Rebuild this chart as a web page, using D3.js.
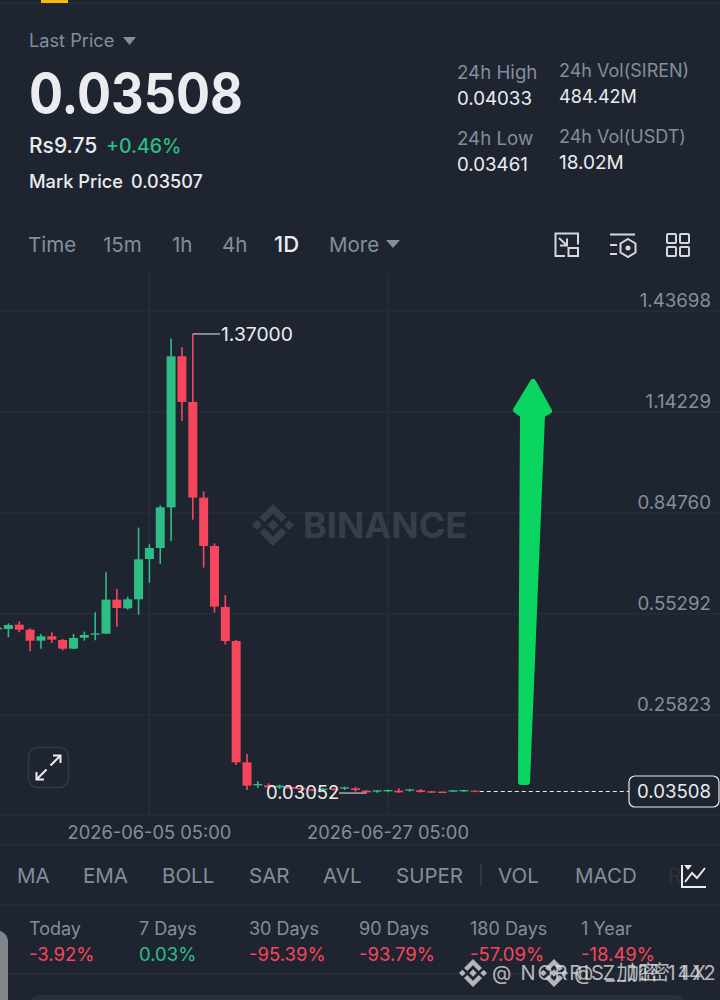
<!DOCTYPE html>
<html>
<head>
<meta charset="utf-8">
<script src="https://cdn.jsdelivr.net/npm/d3@7"></script>
<style>
  html, body { margin: 0; padding: 0; background: #1f2530; }
  svg { display: block; }
  text { font-family: "Inter", "Noto Sans CJK SC", sans-serif; }
</style>
</head>
<body>
<div id="chart"></div>
<script>
// daily candles
const dates = ["2026-05-22","2026-05-23","2026-05-24","2026-05-25","2026-05-26","2026-05-27","2026-05-28","2026-05-29","2026-05-30","2026-05-31",
  "2026-06-01","2026-06-02","2026-06-03","2026-06-04","2026-06-05","2026-06-06","2026-06-07","2026-06-08","2026-06-09","2026-06-10",
  "2026-06-11","2026-06-12","2026-06-13","2026-06-14","2026-06-15","2026-06-16","2026-06-17","2026-06-18","2026-06-19","2026-06-20",
  "2026-06-21","2026-06-22","2026-06-23","2026-06-24","2026-06-25","2026-06-26","2026-06-27","2026-06-28","2026-06-29","2026-06-30",
  "2026-07-01","2026-07-02","2026-07-03","2026-07-04","2026-07-05"];
const opens = [.5082,.5092,.5218,.5072,.4751,.4878,.4771,.4518,.4839,.4926,
  .4955,.5948,.5695,.5958,.7134,.7455,.8642,1.3048,1.1716,.8924,
  .7514,.5734,.4742,.1201,.0530,.0530,.0472,.0481,.0452,.0413,
  .0394,.0433,.0433,.0442,.0374,.0345,.0355,.0374,.0374,.0384,
  .0355,.0345,.0345,.0355,.0374];
const highs = [.5160,.5257,.5315,.5111,.4946,.4995,.4800,.4946,.5014,.5578,
  .6745,.6269,.6036,.8049,.7562,.8700,1.3564,1.3311,1.37,.9109,
  .7592,.6084,.4771,.1444,.0647,.0588,.0549,.0530,.0472,.0433,
  .0452,.0452,.0491,.0481,.0394,.0394,.0403,.0442,.0423,.0423,
  .0365,.0355,.0394,.0403,.0384];
const lows = [.5043,.4849,.4995,.4440,.4518,.4683,.4469,.4508,.4751,.4761,
  .4955,.5160,.5656,.5510,.6444,.6988,.7660,1.1161,.8282,.6882,
  .5568,.4635,.1123,.0394,.0452,.0433,.0423,.0404,.0384,.0355,
  .0374,.0374,.0394,.0345,.03052,.0316,.0326,.0308,.0345,.0316,
  .0311,.0305,.0335,.0335,.0326];
const closes = [.5131,.5208,.5072,.4751,.4878,.4781,.4518,.4829,.4917,.4965,
  .5948,.5705,.5958,.7125,.7455,.8642,1.3048,1.1716,.8924,.7514,
  .5744,.4742,.1201,.0520,.0569,.0472,.0520,.0433,.0413,.0374,
  .0433,.0394,.0472,.0394,.0326,.0384,.0394,.0326,.0413,.0335,
  .0316,.0306,.0384,.0394,.03508];

const priceTicks = [1.43698, 1.14229, 0.84760, 0.55292, 0.25823];
const dateTicks = ["2026-06-05", "2026-06-27"];
const lastPrice = 0.03508, highPrice = 1.37, lowPrice = 0.03052;

const timeframes = ["Time", "15m", "1h", "4h", "1D", "More"];
const indicators = ["MA", "EMA", "BOLL", "SAR", "AVL", "SUPER", "VOL", "MACD"];
const periods = ["Today", "7 Days", "30 Days", "90 Days", "180 Days", "1 Year"];
const periodChanges = ["-3.92%", "0.03%", "-95.39%", "-93.79%", "-57.09%", "-18.49%"];

const bg = "#1f2530", grid = "#2b313b", green = "#2ebd85", red = "#f6465d",
  gray = "#848e9c", white = "#eaecef";

const svg = d3.select("#chart").append("svg").attr("width", 720).attr("height", 1000);
const parse = d3.utcParse("%Y-%m-%d");

const label = (x, y, t, size, fill, opts = {}) => svg.append("text")
  .attr("x", x).attr("y", y).attr("font-size", size).attr("fill", fill)
  .attr("text-anchor", opts.anchor || "start")
  .attr("font-weight", opts.weight || 400)
  .text(t);
const hline = (y, c) => svg.append("line").attr("x1", 0).attr("x2", 720)
  .attr("y1", y).attr("y2", y).attr("stroke", c || grid).attr("stroke-width", 1.2);

// binance logo: two chevrons and three diamonds
const logo = (g, cx, cy, r) => {
  const k = r / 21;
  const dia = (dx, dy, s) => g.append("path")
    .attr("d", `M${cx + dx * k} ${cy + (dy - s) * k}l${s * k} ${s * k}l${-s * k} ${s * k}l${-s * k} ${-s * k}z`);
  [-1, 1].forEach(s => g.append("path").attr("d",
    d3.line()([[0, -21 * s], [13.500, -7.500 * s], [8.500, -3 * s], [0, -11.500 * s], [-8.500, -3 * s], [-13.500, -7.500 * s]]
      .map(p => [cx + p[0] * k, cy + p[1] * k])) + "z"));
  dia(0, 0, 5.500); dia(-16, 0, 5); dia(16, 0, 5);
};

// header
hline(3);
svg.append("rect").attr("x", 41).attr("y", 0).attr("width", 27).attr("height", 3).attr("fill", "#f0b90b");
label(29, 47, "Last Price", 18.200, gray);
svg.append("path").attr("d", "M123 37h13l-6.500 8z").attr("fill", gray);
label(29, 113, "0.03508", 55, white, { weight: 700 }).attr("textLength", 214).attr("lengthAdjust", "spacingAndGlyphs");
label(29, 153, "Rs9.75", 21, white, { weight: 500 });
label(106, 153, "+0.46%", 19.500, green, { weight: 500 });
label(29, 188, "Mark Price", 18.200, white, { weight: 500 });
label(131, 188, "0.03507", 18, white, { weight: 500 });
label(457, 79, "24h High", 18.700, gray);
label(457, 105, "0.04033", 18.700, white);
label(457, 145, "24h Low", 18.700, gray);
label(457, 171, "0.03461", 18.700, white);
label(559, 77, "24h Vol(SIREN)", 18, gray);
label(559, 103, "484.42M", 18, white);
label(559, 143, "24h Vol(USDT)", 18, gray);
label(559, 169, "18.02M", 19, white);

// timeframe tabs
const tabX = d3.scaleOrdinal().domain(timeframes).range([28, 103, 172, 222, 274, 329]);
timeframes.forEach(t => label(tabX(t), 252, t, t === "1D" ? 22 : 20.500, t === "1D" ? white : gray, { weight: t === "1D" ? 500 : 400 }));
svg.append("path").attr("d", "M386 240h14l-7 8z").attr("fill", gray);

// toolbar icons
const icons = svg.append("g").attr("fill", "none").attr("stroke", "#d5d8dc").attr("stroke-width", 2);
icons.append("path").attr("d", "M565 256h-9.500v-22.500h22.500v11");
icons.append("rect").attr("x", 568.500).attr("y", 248).attr("width", 9.500).attr("height", 8);
icons.append("path").attr("d", "M559 238l8 7.500m0-7v7h-7");
icons.append("path").attr("d", "M610 234.500h25M610 245h7M610 254h7");
icons.append("path").attr("d", "M628 239l7.500 4.500v9l-7.500 4.500l-7.500-4.500v-9z");
icons.append("circle").attr("cx", 628).attr("cy", 248).attr("r", 1.500).attr("fill", "#d5d8dc");
[[667, 234], [680, 234], [667, 247], [680, 247]].forEach(p =>
  icons.append("rect").attr("x", p[0]).attr("y", p[1]).attr("width", 9).attr("height", 9).attr("rx", 1));

hline(272);

// scales
const y = d3.scaleLinear().domain([priceTicks[4], priceTicks[0]]).range([715, 311]);
const x = d3.scaleUtc().domain([parse(dateTicks[0]), parse(dateTicks[1])]).range([149.400, 388]);
const candleW = 9;

// grid + axes
const plot = svg.append("g");
const yAxis = plot.append("g").attr("transform", "translate(720,0)")
  .call(d3.axisLeft(y).offset(0).tickValues(priceTicks).tickSize(720).tickFormat(d3.format(".5f")));
yAxis.select(".domain").remove();
yAxis.selectAll("line").attr("stroke", grid).attr("stroke-width", 1.2);
yAxis.selectAll("text").attr("x", -9).attr("dy", -4).attr("fill", gray).attr("font-size", 18.700)
  .attr("text-anchor", "end").attr("font-family", "Inter");

const xAxis = plot.append("g").attr("transform", "translate(0,815)")
  .call(d3.axisBottom(x).offset(0).tickValues(dateTicks.map(parse)).tickSize(-543)
    .tickFormat(d => d3.utcFormat("%Y-%m-%d")(d) + " 05:00"));
xAxis.select(".domain").remove();
xAxis.selectAll("line").attr("stroke", grid).attr("stroke-width", 1.2);
xAxis.selectAll("text").attr("y", 11).attr("dy", 12.500).attr("fill", gray).attr("font-size", 18.300)
  .attr("font-family", "Inter");
hline(815);

// watermark
const wm = svg.append("g").attr("fill", "#383e49");
logo(wm, 273, 525, 21);
wm.append("text").attr("x", 303).attr("y", 538).attr("font-size", 36).attr("font-weight", 700).text("BINANCE");

// candles
const candles = dates.map((d, i) => ({ date: parse(d), o: opens[i], h: highs[i], l: lows[i], c: closes[i] }));
const candle = svg.append("g").selectAll("g").data(candles).join("g")
  .attr("fill", d => d.c >= d.o ? green : red).attr("stroke", d => d.c >= d.o ? green : red);
candle.append("line")
  .attr("x1", d => x(d.date)).attr("x2", d => x(d.date))
  .attr("y1", d => y(d.h)).attr("y2", d => y(d.l)).attr("stroke-width", 1.600);
candle.append("rect")
  .attr("x", d => x(d.date) - candleW / 2).attr("width", candleW)
  .attr("y", d => y(Math.max(d.o, d.c)))
  .attr("height", d => Math.max(1, Math.abs(y(d.o) - y(d.c))))
  .attr("stroke", "none");

// high / low callouts
const hi = candles.find(d => d.h === highPrice), lo = candles.find(d => d.l === lowPrice);
svg.append("line").attr("x1", x(hi.date)).attr("x2", 220).attr("y1", y(highPrice)).attr("y2", y(highPrice)).attr("stroke", "#a7abb2").attr("stroke-width", 1.500);
label(221, y(highPrice) + 7, highPrice.toFixed(5), 19.300, white);
svg.append("line").attr("x1", 339).attr("x2", x(lo.date)).attr("y1", y(lowPrice)).attr("y2", y(lowPrice)).attr("stroke", "#a7abb2").attr("stroke-width", 1.500);
label(266, y(lowPrice) + 6, lowPrice.toFixed(5), 18.500, white);

// last price line and tag
const lastCandle = candles[candles.length - 1];
svg.append("line").attr("x1", x(lastCandle.date) + 5).attr("x2", 629)
  .attr("y1", y(lastPrice)).attr("y2", y(lastPrice))
  .attr("stroke", white).attr("stroke-width", 1.200).attr("stroke-dasharray", "4 3");
svg.append("rect").attr("x", 629).attr("y", y(lastPrice) - 15.500).attr("width", 90).attr("height", 31).attr("rx", 6)
  .attr("fill", bg).attr("stroke", white).attr("stroke-width", 1.200);
label(711, y(lastPrice) + 7, lastPrice.toFixed(5), 18.600, white, { anchor: "end" });

// expand button
svg.append("rect").attr("x", 28.500).attr("y", 747.500).attr("width", 40).attr("height", 40).attr("rx", 9)
  .attr("fill", bg).attr("stroke", "#343a45").attr("stroke-width", 1.500);
svg.append("path").attr("d", "M50.500 765.500L60.500 755.500m-7.500 0h7.500v7.500M46.500 769.500L36.500 779.500m0-7.500v7.500h7.500")
  .attr("fill", "none").attr("stroke", white).attr("stroke-width", 2);

// hand drawn arrow
svg.append("path")
  .attr("d", "M533 382L516 410L523 415L521 782L527 782L542 415L549 411Z")
  .attr("fill", "#0bd561").attr("stroke", "#0bd561").attr("stroke-width", 6).attr("stroke-linejoin", "round");

// indicator strip
hline(845);
const indX = d3.scaleOrdinal().domain(indicators).range([17, 83, 162, 249, 323, 396, 498, 575]);
indicators.forEach(t => label(indX(t), 883, t, 20.500, gray));
label(668, 883, "R", 20.500, "#2c323c");
svg.append("line").attr("x1", 481).attr("x2", 481).attr("y1", 864).attr("y2", 886).attr("stroke", "#373d47").attr("stroke-width", 1.500);
svg.append("path").attr("d", "M682 865v22h24M685 882l7-9l5 5l8-10").attr("fill", "none").attr("stroke", white).attr("stroke-width", 2);
svg.append("path").attr("d", "M684 865h8l-4 5z").attr("fill", white);
hline(905);

// period stats
const perX = d3.scaleOrdinal().domain(periods).range([29, 139, 249, 359, 470, 581]);
periods.forEach((p, i) => {
  label(perX(p), 935, p, 18, gray);
  label(perX(p), 961, periodChanges[i], 18.500, periodChanges[i].startsWith("-") ? red : green);
});
hline(974);

// bottom bits
svg.append("rect").attr("x", -20).attr("y", 930).attr("width", 28).attr("height", 90).attr("rx", 12).attr("fill", "#80858c");
svg.append("rect").attr("x", 30).attr("y", 995).attr("width", 655).attr("height", 30).attr("rx", 10).attr("fill", "#2a303a");

// overlapping author stamps from the repost, they sit on top of each other in the source too
const stamp = svg.append("g").attr("fill", "#d9dbde").attr("opacity", 0.8);
logo(stamp, 473, 973, 14);
logo(stamp, 554, 973, 14);
label(492, 980, "@ NORRIS_加密 14X", 20, "#d9dbde").attr("opacity", 0.8).attr("letter-spacing", 1.800);
label(574, 980, "@ Z_加密 142", 20, "#d9dbde").attr("opacity", 0.8).attr("letter-spacing", 1.800);
</script>
</body>
</html>
